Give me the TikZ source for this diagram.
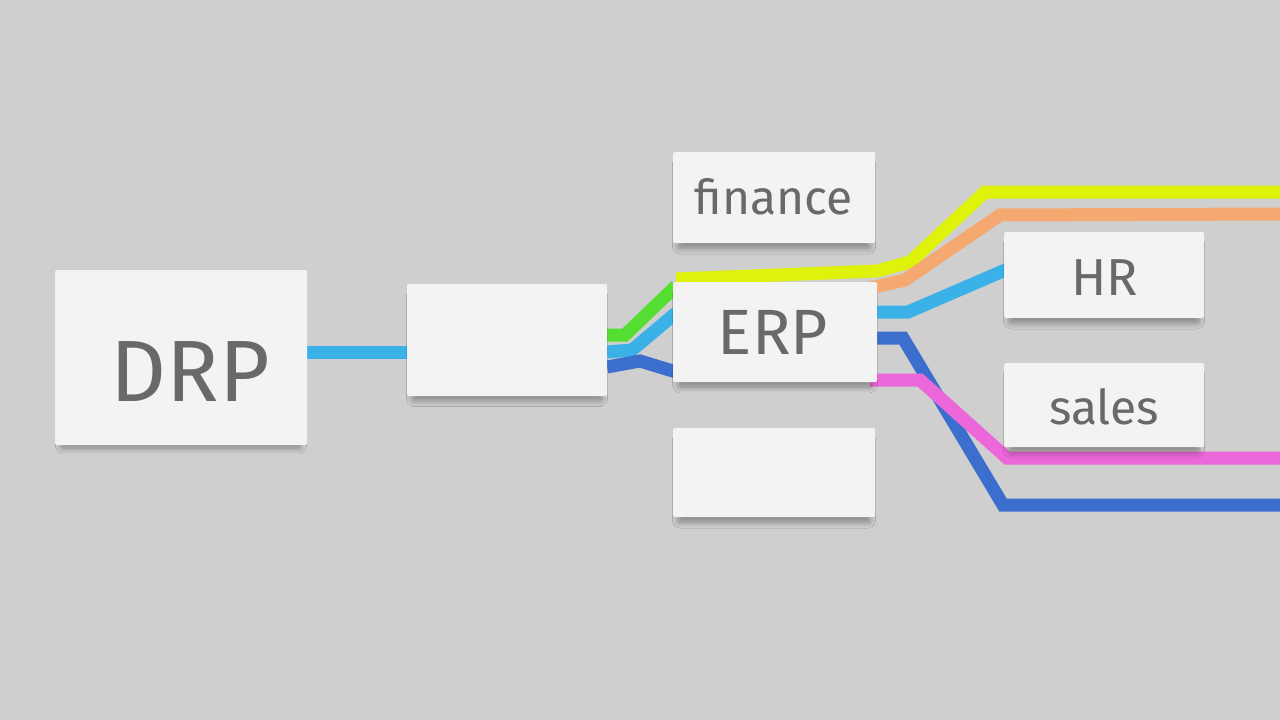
\documentclass[tikz,border=0pt]{standalone}
\usepackage{fontspec}
\setmainfont{Fira Sans}
\usetikzlibrary{shadows.blur}
\definecolor{bg}{RGB}{207,207,207}
\definecolor{boxfill}{RGB}{243,243,243}
\definecolor{txt}{RGB}{105,105,105}
\definecolor{lblue}{RGB}{58,178,232}
\definecolor{grn}{RGB}{85,222,50}
\definecolor{ylw}{RGB}{222,242,10}
\definecolor{orng}{RGB}{245,168,112}
\definecolor{dblue}{RGB}{60,110,205}
\definecolor{pnk}{RGB}{236,104,218}
\tikzset{
  card/.style={draw=none, fill=boxfill, inner sep=0pt, rounded corners=1.5pt,
    blur shadow={shadow xshift=0pt, shadow yshift=-8pt, shadow scale=0.95, shadow blur steps=10, shadow opacity=35, shadow blur radius=6pt}},
  lbl/.style={text=txt, inner sep=0pt, anchor=center},
  wire/.style={line width=13pt},
}
\begin{document}
\begin{tikzpicture}[x=1pt,y=-1pt]
\fill[bg] (0,0) rectangle (1280,720);
\useasboundingbox (0,0) rectangle (1280,720);
% wires behind boxes
\draw[wire,grn] (607,335) -- (625,335) -- (676,286);
\draw[wire,ylw] (676,279) -- (877,271) -- (910,262) -- (985,192) -- (1280,192);
\draw[wire,lblue] (607,352) -- (632,350) -- (676,313);
\draw[wire,dblue] (607,367) -- (640,361) -- (676,372);
\draw[wire,lblue] (300,352) -- (415,352);
\draw[wire,orng] (870,288) -- (905,280) -- (1000,215) -- (1280,214);
\draw[wire,lblue] (870,312) -- (908,312) -- (1010,268);
\draw[wire,dblue] (870,338) -- (903,338) -- (1003,505) -- (1280,505);
\draw[wire,pnk] (870,380) -- (920,380) -- (1007,458) -- (1280,458);
% boxes
\node[card, minimum width=252pt, minimum height=175pt] (drp) at (181,357.5) {};
\node[card, minimum width=200pt, minimum height=112pt] (mid) at (507,340) {};
\node[card, minimum width=202pt, minimum height=91pt] (fin) at (774,197.5) {};
\node[card, minimum width=204pt, minimum height=100pt] (erp) at (775,332) {};
\node[card, minimum width=202pt, minimum height=89pt] (blank) at (774,472.5) {};
\node[card, minimum width=200pt, minimum height=86pt] (hr) at (1104,275) {};
\node[card, minimum width=200pt, minimum height=84pt] (sales) at (1104,405) {};
% labels
\node[lbl, font=\fontsize{87}{90}\selectfont] (drpt) at (190,371.5) {DRP};
\node[lbl, font=\fontsize{48}{56}\selectfont] (fint) at (774,197) {finance};
\node[lbl, font=\fontsize{64}{70}\selectfont] (erpt) at (773,332.5) {ERP};
\node[lbl, font=\fontsize{52}{56}\selectfont] (hrt) at (1105,278) {HR};
\node[lbl, font=\fontsize{48}{52}\selectfont] (salest) at (1104,407) {sales};
\end{tikzpicture}
\end{document}
